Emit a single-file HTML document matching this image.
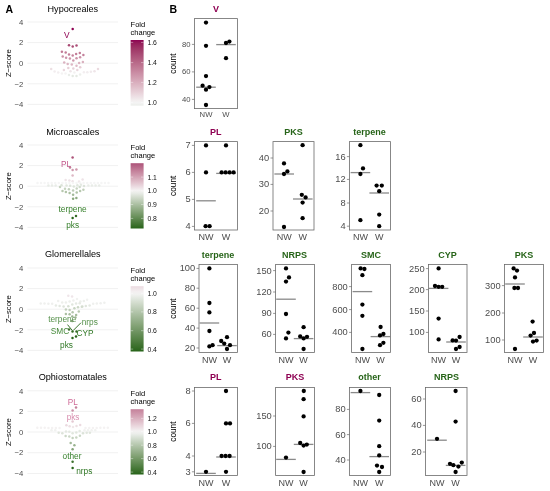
<!DOCTYPE html>
<html><head><meta charset="utf-8"><title>Figure</title>
<style>
html,body{margin:0;padding:0;background:#fff;}
svg{display:block;font-family:'Liberation Sans', sans-serif;}
</style></head>
<body>
<svg width="550" height="491" viewBox="0 0 550 491">
<rect x="0" y="0" width="550" height="491" fill="#ffffff"/>
<text x="72.80" y="12.00" font-size="9.1" fill="#000" text-anchor="middle">Hypocreales</text>
<line x1="27.40" y1="22.00" x2="118.00" y2="22.00" stroke="#ebebeb" stroke-width="0.7"/>
<text x="23.30" y="24.75" font-size="7.7" fill="#4d4d4d" text-anchor="end">4</text>
<line x1="27.40" y1="42.60" x2="118.00" y2="42.60" stroke="#ebebeb" stroke-width="0.7"/>
<text x="23.30" y="45.35" font-size="7.7" fill="#4d4d4d" text-anchor="end">2</text>
<line x1="27.40" y1="63.20" x2="118.00" y2="63.20" stroke="#ebebeb" stroke-width="0.7"/>
<text x="23.30" y="65.95" font-size="7.7" fill="#4d4d4d" text-anchor="end">0</text>
<line x1="27.40" y1="83.80" x2="118.00" y2="83.80" stroke="#ebebeb" stroke-width="0.7"/>
<text x="23.30" y="86.55" font-size="7.7" fill="#4d4d4d" text-anchor="end">−2</text>
<line x1="27.40" y1="104.40" x2="118.00" y2="104.40" stroke="#ebebeb" stroke-width="0.7"/>
<text x="23.30" y="107.15" font-size="7.7" fill="#4d4d4d" text-anchor="end">−4</text>
<text x="11.00" y="63.20" font-size="7.6" fill="#000" text-anchor="middle" transform="rotate(-90 11.00 63.20)">Z−score</text>
<text x="130.60" y="27.00" font-size="7.5" fill="#000" text-anchor="start">Fold</text>
<text x="130.60" y="35.20" font-size="7.5" fill="#000" text-anchor="start">change</text>
<defs><linearGradient id="g1" x1="0" y1="0" x2="0" y2="1"><stop offset="0.0000" stop-color="#8e0152"/><stop offset="0.0417" stop-color="#931958"/><stop offset="0.0833" stop-color="#99285f"/><stop offset="0.1250" stop-color="#9e3465"/><stop offset="0.1667" stop-color="#a33f6c"/><stop offset="0.2083" stop-color="#a84973"/><stop offset="0.2500" stop-color="#ad537a"/><stop offset="0.2917" stop-color="#b25d80"/><stop offset="0.3333" stop-color="#b76787"/><stop offset="0.3750" stop-color="#bc708e"/><stop offset="0.4167" stop-color="#c17a95"/><stop offset="0.4583" stop-color="#c5839c"/><stop offset="0.5000" stop-color="#ca8da4"/><stop offset="0.5417" stop-color="#ce96ab"/><stop offset="0.5833" stop-color="#d2a0b2"/><stop offset="0.6250" stop-color="#d7a9ba"/><stop offset="0.6667" stop-color="#dbb3c1"/><stop offset="0.7083" stop-color="#dfbcc8"/><stop offset="0.7500" stop-color="#e3c6d0"/><stop offset="0.7917" stop-color="#e7cfd7"/><stop offset="0.8333" stop-color="#ebd9df"/><stop offset="0.8750" stop-color="#eee3e7"/><stop offset="0.9167" stop-color="#f2edee"/><stop offset="0.9583" stop-color="#f4f4f4"/><stop offset="1.0000" stop-color="#eaede9"/></linearGradient></defs>
<rect x="130.60" y="40.00" width="13.00" height="65.60" fill="url(#g1)"/>
<line x1="130.60" y1="42.40" x2="133.20" y2="42.40" stroke="#ffffff" stroke-width="0.4"/>
<line x1="141.00" y1="42.40" x2="143.60" y2="42.40" stroke="#ffffff" stroke-width="0.4"/>
<text x="147.40" y="44.80" font-size="6.8" fill="#111" text-anchor="start">1.6</text>
<line x1="130.60" y1="62.60" x2="133.20" y2="62.60" stroke="#ffffff" stroke-width="0.4"/>
<line x1="141.00" y1="62.60" x2="143.60" y2="62.60" stroke="#ffffff" stroke-width="0.4"/>
<text x="147.40" y="65.00" font-size="6.8" fill="#111" text-anchor="start">1.4</text>
<line x1="130.60" y1="82.40" x2="133.20" y2="82.40" stroke="#ffffff" stroke-width="0.4"/>
<line x1="141.00" y1="82.40" x2="143.60" y2="82.40" stroke="#ffffff" stroke-width="0.4"/>
<text x="147.40" y="84.80" font-size="6.8" fill="#111" text-anchor="start">1.2</text>
<line x1="130.60" y1="102.40" x2="133.20" y2="102.40" stroke="#ffffff" stroke-width="0.4"/>
<line x1="141.00" y1="102.40" x2="143.60" y2="102.40" stroke="#ffffff" stroke-width="0.4"/>
<text x="147.40" y="104.80" font-size="6.8" fill="#111" text-anchor="start">1.0</text>
<circle cx="72.70" cy="28.90" r="1.25" fill="#8e0152"/>
<circle cx="69.00" cy="45.20" r="1.25" fill="#a94a73"/>
<circle cx="72.70" cy="46.50" r="1.25" fill="#a94a73"/>
<circle cx="76.50" cy="45.50" r="1.25" fill="#ab4e76"/>
<circle cx="61.90" cy="51.80" r="1.25" fill="#c17a96"/>
<circle cx="65.70" cy="52.60" r="1.25" fill="#c27d97"/>
<circle cx="69.00" cy="54.40" r="1.25" fill="#c37f99"/>
<circle cx="72.70" cy="55.60" r="1.25" fill="#c4819b"/>
<circle cx="76.10" cy="53.90" r="1.25" fill="#c37f99"/>
<circle cx="79.80" cy="53.10" r="1.25" fill="#c27d97"/>
<circle cx="83.40" cy="55.10" r="1.25" fill="#c4819b"/>
<circle cx="62.70" cy="56.50" r="1.25" fill="#cb90a6"/>
<circle cx="66.10" cy="57.80" r="1.25" fill="#cc92a8"/>
<circle cx="69.90" cy="58.60" r="1.25" fill="#cd94a9"/>
<circle cx="73.30" cy="60.50" r="1.25" fill="#cf99ad"/>
<circle cx="76.50" cy="58.20" r="1.25" fill="#cd94a9"/>
<circle cx="80.10" cy="57.20" r="1.25" fill="#cc92a8"/>
<circle cx="64.20" cy="62.60" r="1.25" fill="#dbb3c1"/>
<circle cx="67.70" cy="64.00" r="1.25" fill="#dcb5c3"/>
<circle cx="71.80" cy="64.50" r="1.25" fill="#ddb7c4"/>
<circle cx="76.50" cy="65.80" r="1.25" fill="#deb9c6"/>
<circle cx="79.10" cy="63.00" r="1.25" fill="#dbb3c1"/>
<circle cx="82.90" cy="62.00" r="1.25" fill="#dab1bf"/>
<circle cx="68.30" cy="68.00" r="1.25" fill="#e7cfd7"/>
<circle cx="73.30" cy="68.40" r="1.25" fill="#e7d1d9"/>
<circle cx="63.90" cy="69.90" r="1.25" fill="#ead8de"/>
<circle cx="70.50" cy="71.20" r="1.25" fill="#efe5e9"/>
<circle cx="77.30" cy="69.90" r="1.25" fill="#e9d6dc"/>
<circle cx="80.20" cy="67.30" r="1.25" fill="#e6cdd5"/>
<circle cx="51.20" cy="69.10" r="1.25" fill="#eddfe3"/>
<circle cx="54.60" cy="71.50" r="1.25" fill="#f2edef"/>
<circle cx="58.20" cy="72.40" r="1.25" fill="#f3eff1"/>
<circle cx="61.90" cy="73.50" r="1.25" fill="#f4f3f3"/>
<circle cx="65.50" cy="73.50" r="1.25" fill="#f4f3f3"/>
<circle cx="74.40" cy="72.40" r="1.25" fill="#f3f1f1"/>
<circle cx="83.90" cy="72.20" r="1.25" fill="#f3eef0"/>
<circle cx="87.30" cy="72.20" r="1.25" fill="#f2edef"/>
<circle cx="90.90" cy="71.80" r="1.25" fill="#f1ebed"/>
<circle cx="94.50" cy="71.20" r="1.25" fill="#efe5e9"/>
<circle cx="98.00" cy="69.00" r="1.25" fill="#ebdae0"/>
<circle cx="69.00" cy="75.00" r="1.25" fill="#eaede9"/>
<circle cx="72.70" cy="76.00" r="1.25" fill="#e4e9e2"/>
<circle cx="76.50" cy="76.00" r="1.25" fill="#e4e9e2"/>
<circle cx="80.10" cy="74.50" r="1.25" fill="#edefeb"/>
<text x="66.80" y="38.30" font-size="8.4" fill="#8e0152" text-anchor="middle">V</text>
<text x="72.80" y="134.80" font-size="9.1" fill="#000" text-anchor="middle">Microascales</text>
<line x1="27.40" y1="145.00" x2="118.00" y2="145.00" stroke="#ebebeb" stroke-width="0.7"/>
<text x="23.30" y="147.75" font-size="7.7" fill="#4d4d4d" text-anchor="end">4</text>
<line x1="27.40" y1="165.60" x2="118.00" y2="165.60" stroke="#ebebeb" stroke-width="0.7"/>
<text x="23.30" y="168.35" font-size="7.7" fill="#4d4d4d" text-anchor="end">2</text>
<line x1="27.40" y1="186.20" x2="118.00" y2="186.20" stroke="#ebebeb" stroke-width="0.7"/>
<text x="23.30" y="188.95" font-size="7.7" fill="#4d4d4d" text-anchor="end">0</text>
<line x1="27.40" y1="206.80" x2="118.00" y2="206.80" stroke="#ebebeb" stroke-width="0.7"/>
<text x="23.30" y="209.55" font-size="7.7" fill="#4d4d4d" text-anchor="end">−2</text>
<line x1="27.40" y1="227.40" x2="118.00" y2="227.40" stroke="#ebebeb" stroke-width="0.7"/>
<text x="23.30" y="230.15" font-size="7.7" fill="#4d4d4d" text-anchor="end">−4</text>
<text x="11.00" y="186.20" font-size="7.6" fill="#000" text-anchor="middle" transform="rotate(-90 11.00 186.20)">Z−score</text>
<text x="130.60" y="150.00" font-size="7.5" fill="#000" text-anchor="start">Fold</text>
<text x="130.60" y="158.20" font-size="7.5" fill="#000" text-anchor="start">change</text>
<defs><linearGradient id="g2" x1="0" y1="0" x2="0" y2="1"><stop offset="0.0000" stop-color="#ad5379"/><stop offset="0.0417" stop-color="#b56385"/><stop offset="0.0833" stop-color="#bd7390"/><stop offset="0.1250" stop-color="#c5839c"/><stop offset="0.1667" stop-color="#cc92a8"/><stop offset="0.2083" stop-color="#d3a2b4"/><stop offset="0.2500" stop-color="#dab2c0"/><stop offset="0.2917" stop-color="#e1c1cc"/><stop offset="0.3333" stop-color="#e7d1d9"/><stop offset="0.3750" stop-color="#eee1e6"/><stop offset="0.4167" stop-color="#f4f2f2"/><stop offset="0.4583" stop-color="#e9ece7"/><stop offset="0.5000" stop-color="#dae1d6"/><stop offset="0.5417" stop-color="#cbd6c5"/><stop offset="0.5833" stop-color="#bcccb5"/><stop offset="0.6250" stop-color="#adc1a4"/><stop offset="0.6667" stop-color="#9eb694"/><stop offset="0.7083" stop-color="#90ac84"/><stop offset="0.7500" stop-color="#81a175"/><stop offset="0.7917" stop-color="#739765"/><stop offset="0.8333" stop-color="#648d56"/><stop offset="0.8750" stop-color="#568247"/><stop offset="0.9167" stop-color="#477838"/><stop offset="0.9583" stop-color="#386e29"/><stop offset="1.0000" stop-color="#276419"/></linearGradient></defs>
<rect x="130.60" y="163.20" width="13.00" height="65.30" fill="url(#g2)"/>
<line x1="130.60" y1="177.10" x2="133.20" y2="177.10" stroke="#ffffff" stroke-width="0.4"/>
<line x1="141.00" y1="177.10" x2="143.60" y2="177.10" stroke="#ffffff" stroke-width="0.4"/>
<text x="147.40" y="179.50" font-size="6.8" fill="#111" text-anchor="start">1.1</text>
<line x1="130.60" y1="191.00" x2="133.20" y2="191.00" stroke="#ffffff" stroke-width="0.4"/>
<line x1="141.00" y1="191.00" x2="143.60" y2="191.00" stroke="#ffffff" stroke-width="0.4"/>
<text x="147.40" y="193.40" font-size="6.8" fill="#111" text-anchor="start">1.0</text>
<line x1="130.60" y1="204.50" x2="133.20" y2="204.50" stroke="#ffffff" stroke-width="0.4"/>
<line x1="141.00" y1="204.50" x2="143.60" y2="204.50" stroke="#ffffff" stroke-width="0.4"/>
<text x="147.40" y="206.90" font-size="6.8" fill="#111" text-anchor="start">0.9</text>
<line x1="130.60" y1="218.40" x2="133.20" y2="218.40" stroke="#ffffff" stroke-width="0.4"/>
<line x1="141.00" y1="218.40" x2="143.60" y2="218.40" stroke="#ffffff" stroke-width="0.4"/>
<text x="147.40" y="220.80" font-size="6.8" fill="#111" text-anchor="start">0.8</text>
<circle cx="72.60" cy="157.60" r="1.25" fill="#ad5379"/>
<circle cx="70.00" cy="167.60" r="1.25" fill="#c27d97"/>
<circle cx="72.60" cy="170.00" r="1.25" fill="#cf99ad"/>
<circle cx="76.40" cy="169.60" r="1.25" fill="#cf99ad"/>
<circle cx="72.60" cy="175.40" r="1.25" fill="#ddb7c4"/>
<circle cx="65.60" cy="180.00" r="1.25" fill="#eee3e7"/>
<circle cx="69.40" cy="180.60" r="1.25" fill="#eee3e7"/>
<circle cx="72.60" cy="181.20" r="1.25" fill="#eee3e7"/>
<circle cx="82.60" cy="179.60" r="1.25" fill="#eee3e7"/>
<circle cx="79.00" cy="181.60" r="1.25" fill="#f0e8ea"/>
<circle cx="37.50" cy="183.00" r="1.25" fill="#f5f5f5"/>
<circle cx="41.05" cy="183.00" r="1.25" fill="#f5f5f5"/>
<circle cx="44.60" cy="183.00" r="1.25" fill="#f5f5f5"/>
<circle cx="48.15" cy="183.00" r="1.25" fill="#f5f5f5"/>
<circle cx="51.70" cy="183.00" r="1.25" fill="#f5f5f5"/>
<circle cx="55.25" cy="183.00" r="1.25" fill="#f5f5f5"/>
<circle cx="58.80" cy="183.00" r="1.25" fill="#f5f5f5"/>
<circle cx="62.35" cy="183.00" r="1.25" fill="#f5f5f5"/>
<circle cx="65.90" cy="183.00" r="1.25" fill="#f5f5f5"/>
<circle cx="69.45" cy="183.00" r="1.25" fill="#f5f5f5"/>
<circle cx="73.00" cy="183.00" r="1.25" fill="#f5f5f5"/>
<circle cx="76.55" cy="183.00" r="1.25" fill="#f5f5f5"/>
<circle cx="80.10" cy="183.00" r="1.25" fill="#f5f5f5"/>
<circle cx="83.65" cy="183.00" r="1.25" fill="#f5f5f5"/>
<circle cx="87.20" cy="183.00" r="1.25" fill="#f5f5f5"/>
<circle cx="90.75" cy="183.00" r="1.25" fill="#f5f5f5"/>
<circle cx="94.30" cy="183.00" r="1.25" fill="#f5f5f5"/>
<circle cx="97.85" cy="183.00" r="1.25" fill="#f5f5f5"/>
<circle cx="101.40" cy="183.00" r="1.25" fill="#f5f5f5"/>
<circle cx="104.95" cy="183.00" r="1.25" fill="#f5f5f5"/>
<circle cx="108.50" cy="183.00" r="1.25" fill="#f5f5f5"/>
<circle cx="48.40" cy="185.40" r="1.25" fill="#e8ece7"/>
<circle cx="52.03" cy="185.40" r="1.25" fill="#e8ece7"/>
<circle cx="55.66" cy="185.40" r="1.25" fill="#e8ece7"/>
<circle cx="88.33" cy="185.40" r="1.25" fill="#e8ece7"/>
<circle cx="91.96" cy="185.40" r="1.25" fill="#e8ece7"/>
<circle cx="95.59" cy="185.40" r="1.25" fill="#e8ece7"/>
<circle cx="99.22" cy="185.40" r="1.25" fill="#e8ece7"/>
<circle cx="60.00" cy="187.10" r="1.25" fill="#c7d4c1"/>
<circle cx="62.50" cy="190.90" r="1.25" fill="#b7c8af"/>
<circle cx="65.90" cy="192.10" r="1.25" fill="#b1c4a8"/>
<circle cx="69.60" cy="193.10" r="1.25" fill="#abbfa2"/>
<circle cx="73.10" cy="194.70" r="1.25" fill="#a2b999"/>
<circle cx="76.70" cy="192.60" r="1.25" fill="#adc1a4"/>
<circle cx="80.10" cy="190.90" r="1.25" fill="#b7c8af"/>
<circle cx="83.40" cy="189.70" r="1.25" fill="#bfceb8"/>
<circle cx="61.50" cy="185.20" r="1.25" fill="#dce3d9"/>
<circle cx="65.00" cy="188.70" r="1.25" fill="#c7d4c1"/>
<circle cx="68.90" cy="189.20" r="1.25" fill="#c3d1bd"/>
<circle cx="73.10" cy="190.40" r="1.25" fill="#bdccb6"/>
<circle cx="76.70" cy="188.40" r="1.25" fill="#c7d4c1"/>
<circle cx="79.70" cy="187.10" r="1.25" fill="#cfdacb"/>
<circle cx="84.00" cy="186.00" r="1.25" fill="#dce3d9"/>
<circle cx="66.50" cy="185.40" r="1.25" fill="#e0e6dd"/>
<circle cx="70.20" cy="185.80" r="1.25" fill="#dce3d9"/>
<circle cx="73.80" cy="186.60" r="1.25" fill="#dce3d9"/>
<circle cx="77.40" cy="185.20" r="1.25" fill="#e0e6dd"/>
<circle cx="81.00" cy="184.80" r="1.25" fill="#e4e9e2"/>
<circle cx="73.10" cy="198.70" r="1.25" fill="#8aa87e"/>
<circle cx="76.40" cy="198.10" r="1.25" fill="#8eab83"/>
<circle cx="72.60" cy="218.00" r="1.25" fill="#276419"/>
<circle cx="76.00" cy="216.00" r="1.25" fill="#336b24"/>
<text x="71.10" y="167.00" font-size="8.2" fill="#c2568a" text-anchor="end">PL</text>
<text x="72.60" y="212.40" font-size="8.3" fill="#37802c" text-anchor="middle">terpene</text>
<text x="72.60" y="227.60" font-size="8.3" fill="#37802c" text-anchor="middle">pks</text>
<text x="72.80" y="257.40" font-size="9.1" fill="#000" text-anchor="middle">Glomerellales</text>
<line x1="27.40" y1="268.00" x2="118.00" y2="268.00" stroke="#ebebeb" stroke-width="0.7"/>
<text x="23.30" y="270.75" font-size="7.7" fill="#4d4d4d" text-anchor="end">4</text>
<line x1="27.40" y1="288.60" x2="118.00" y2="288.60" stroke="#ebebeb" stroke-width="0.7"/>
<text x="23.30" y="291.35" font-size="7.7" fill="#4d4d4d" text-anchor="end">2</text>
<line x1="27.40" y1="309.20" x2="118.00" y2="309.20" stroke="#ebebeb" stroke-width="0.7"/>
<text x="23.30" y="311.95" font-size="7.7" fill="#4d4d4d" text-anchor="end">0</text>
<line x1="27.40" y1="329.80" x2="118.00" y2="329.80" stroke="#ebebeb" stroke-width="0.7"/>
<text x="23.30" y="332.55" font-size="7.7" fill="#4d4d4d" text-anchor="end">−2</text>
<line x1="27.40" y1="350.40" x2="118.00" y2="350.40" stroke="#ebebeb" stroke-width="0.7"/>
<text x="23.30" y="353.15" font-size="7.7" fill="#4d4d4d" text-anchor="end">−4</text>
<text x="11.00" y="309.20" font-size="7.6" fill="#000" text-anchor="middle" transform="rotate(-90 11.00 309.20)">Z−score</text>
<text x="130.60" y="273.00" font-size="7.5" fill="#000" text-anchor="start">Fold</text>
<text x="130.60" y="281.20" font-size="7.5" fill="#000" text-anchor="start">change</text>
<defs><linearGradient id="g3" x1="0" y1="0" x2="0" y2="1"><stop offset="0.0000" stop-color="#ebdae0"/><stop offset="0.0417" stop-color="#efe5e8"/><stop offset="0.0833" stop-color="#f3eff0"/><stop offset="0.1250" stop-color="#f1f2f0"/><stop offset="0.1667" stop-color="#e7ebe5"/><stop offset="0.2083" stop-color="#dde4da"/><stop offset="0.2500" stop-color="#d4ddcf"/><stop offset="0.2917" stop-color="#cad6c4"/><stop offset="0.3333" stop-color="#c0cfba"/><stop offset="0.3750" stop-color="#b7c8af"/><stop offset="0.4167" stop-color="#adc1a5"/><stop offset="0.4583" stop-color="#a4ba9a"/><stop offset="0.5000" stop-color="#9ab390"/><stop offset="0.5417" stop-color="#91ad86"/><stop offset="0.5833" stop-color="#88a67b"/><stop offset="0.6250" stop-color="#7e9f71"/><stop offset="0.6667" stop-color="#759868"/><stop offset="0.7083" stop-color="#6c925e"/><stop offset="0.7500" stop-color="#628b54"/><stop offset="0.7917" stop-color="#59854a"/><stop offset="0.8333" stop-color="#507e41"/><stop offset="0.8750" stop-color="#467737"/><stop offset="0.9167" stop-color="#3c712d"/><stop offset="0.9583" stop-color="#326a23"/><stop offset="1.0000" stop-color="#276419"/></linearGradient></defs>
<rect x="130.60" y="286.20" width="13.00" height="65.30" fill="url(#g3)"/>
<line x1="130.60" y1="293.30" x2="133.20" y2="293.30" stroke="#ffffff" stroke-width="0.4"/>
<line x1="141.00" y1="293.30" x2="143.60" y2="293.30" stroke="#ffffff" stroke-width="0.4"/>
<text x="147.40" y="295.70" font-size="6.8" fill="#111" text-anchor="start">1.0</text>
<line x1="130.60" y1="311.90" x2="133.20" y2="311.90" stroke="#ffffff" stroke-width="0.4"/>
<line x1="141.00" y1="311.90" x2="143.60" y2="311.90" stroke="#ffffff" stroke-width="0.4"/>
<text x="147.40" y="314.30" font-size="6.8" fill="#111" text-anchor="start">0.8</text>
<line x1="130.60" y1="330.70" x2="133.20" y2="330.70" stroke="#ffffff" stroke-width="0.4"/>
<line x1="141.00" y1="330.70" x2="143.60" y2="330.70" stroke="#ffffff" stroke-width="0.4"/>
<text x="147.40" y="333.10" font-size="6.8" fill="#111" text-anchor="start">0.6</text>
<line x1="130.60" y1="349.10" x2="133.20" y2="349.10" stroke="#ffffff" stroke-width="0.4"/>
<line x1="141.00" y1="349.10" x2="143.60" y2="349.10" stroke="#ffffff" stroke-width="0.4"/>
<text x="147.40" y="351.50" font-size="6.8" fill="#111" text-anchor="start">0.4</text>
<text x="62.20" y="322.30" font-size="8.3" fill="#55904a" text-anchor="middle">terpene</text>
<text x="89.80" y="324.60" font-size="8.3" fill="#55904a" text-anchor="middle">nrps</text>
<text x="60.00" y="333.60" font-size="8.3" fill="#468a3a" text-anchor="middle">SMC</text>
<text x="85.00" y="335.80" font-size="8.3" fill="#2f7724" text-anchor="middle">CYP</text>
<text x="66.50" y="347.50" font-size="8.3" fill="#2f7724" text-anchor="middle">pks</text>
<line x1="67.50" y1="324.60" x2="72.20" y2="330.40" stroke="#2d6a20" stroke-width="0.95"/>
<line x1="81.00" y1="322.70" x2="73.30" y2="330.40" stroke="#2d6a20" stroke-width="0.95"/>
<circle cx="68.30" cy="295.70" r="1.25" fill="#efe5e9"/>
<circle cx="72.10" cy="296.40" r="1.25" fill="#efe5e9"/>
<circle cx="77.00" cy="299.00" r="1.25" fill="#f1f2f0"/>
<circle cx="87.10" cy="299.80" r="1.25" fill="#f1f2f0"/>
<circle cx="58.20" cy="301.00" r="1.25" fill="#eff0ee"/>
<circle cx="62.20" cy="302.40" r="1.25" fill="#edefeb"/>
<circle cx="65.90" cy="302.40" r="1.25" fill="#edefeb"/>
<circle cx="69.60" cy="301.40" r="1.25" fill="#edefeb"/>
<circle cx="73.40" cy="300.50" r="1.25" fill="#eff0ee"/>
<circle cx="80.40" cy="301.40" r="1.25" fill="#edefeb"/>
<circle cx="83.80" cy="301.00" r="1.25" fill="#edefeb"/>
<circle cx="40.70" cy="303.50" r="1.25" fill="#eff0ee"/>
<circle cx="44.50" cy="303.60" r="1.25" fill="#eff0ee"/>
<circle cx="48.40" cy="303.70" r="1.25" fill="#eff0ee"/>
<circle cx="52.20" cy="303.80" r="1.25" fill="#eff0ee"/>
<circle cx="104.40" cy="302.80" r="1.25" fill="#eff0ee"/>
<circle cx="100.60" cy="303.15" r="1.25" fill="#eff0ee"/>
<circle cx="96.80" cy="303.50" r="1.25" fill="#eff0ee"/>
<circle cx="93.20" cy="303.85" r="1.25" fill="#eff0ee"/>
<circle cx="55.90" cy="305.50" r="1.25" fill="#e6eae4"/>
<circle cx="59.60" cy="305.90" r="1.25" fill="#e2e7e0"/>
<circle cx="63.60" cy="306.40" r="1.25" fill="#dce3d9"/>
<circle cx="68.30" cy="306.20" r="1.25" fill="#d8e0d4"/>
<circle cx="72.30" cy="304.50" r="1.25" fill="#e0e6dd"/>
<circle cx="76.10" cy="303.50" r="1.25" fill="#e4e9e2"/>
<circle cx="79.70" cy="303.20" r="1.25" fill="#e6eae4"/>
<circle cx="82.40" cy="306.60" r="1.25" fill="#dce3d9"/>
<circle cx="85.80" cy="305.90" r="1.25" fill="#e0e6dd"/>
<circle cx="89.60" cy="305.50" r="1.25" fill="#e4e9e2"/>
<circle cx="65.90" cy="309.50" r="1.25" fill="#c3d1bd"/>
<circle cx="69.60" cy="309.90" r="1.25" fill="#bfceb8"/>
<circle cx="74.40" cy="308.20" r="1.25" fill="#c7d4c1"/>
<circle cx="78.00" cy="307.20" r="1.25" fill="#cbd7c6"/>
<circle cx="81.80" cy="306.80" r="1.25" fill="#d4ddcf"/>
<circle cx="65.90" cy="314.00" r="1.25" fill="#abbfa2"/>
<circle cx="69.60" cy="314.20" r="1.25" fill="#a6bc9d"/>
<circle cx="72.60" cy="312.20" r="1.25" fill="#b3c5ab"/>
<circle cx="76.10" cy="314.90" r="1.25" fill="#a6bc9d"/>
<circle cx="78.80" cy="311.50" r="1.25" fill="#b7c8af"/>
<circle cx="72.30" cy="316.40" r="1.25" fill="#98b28e"/>
<circle cx="75.40" cy="317.60" r="1.25" fill="#98b28e"/>
<circle cx="69.00" cy="329.60" r="1.25" fill="#3e722f"/>
<circle cx="72.50" cy="331.50" r="1.25" fill="#336b24"/>
<circle cx="76.50" cy="331.50" r="1.25" fill="#336b24"/>
<circle cx="72.50" cy="338.00" r="1.25" fill="#276419"/>
<circle cx="76.00" cy="336.50" r="1.25" fill="#276419"/>
<circle cx="72.20" cy="321.10" r="1.25" fill="#769969"/>
<text x="72.80" y="380.40" font-size="9.1" fill="#000" text-anchor="middle">Ophiostomatales</text>
<line x1="27.40" y1="390.80" x2="118.00" y2="390.80" stroke="#ebebeb" stroke-width="0.7"/>
<text x="23.30" y="393.55" font-size="7.7" fill="#4d4d4d" text-anchor="end">4</text>
<line x1="27.40" y1="411.40" x2="118.00" y2="411.40" stroke="#ebebeb" stroke-width="0.7"/>
<text x="23.30" y="414.15" font-size="7.7" fill="#4d4d4d" text-anchor="end">2</text>
<line x1="27.40" y1="432.00" x2="118.00" y2="432.00" stroke="#ebebeb" stroke-width="0.7"/>
<text x="23.30" y="434.75" font-size="7.7" fill="#4d4d4d" text-anchor="end">0</text>
<line x1="27.40" y1="452.70" x2="118.00" y2="452.70" stroke="#ebebeb" stroke-width="0.7"/>
<text x="23.30" y="455.45" font-size="7.7" fill="#4d4d4d" text-anchor="end">−2</text>
<line x1="27.40" y1="473.50" x2="118.00" y2="473.50" stroke="#ebebeb" stroke-width="0.7"/>
<text x="23.30" y="476.25" font-size="7.7" fill="#4d4d4d" text-anchor="end">−4</text>
<text x="11.00" y="432.15" font-size="7.6" fill="#000" text-anchor="middle" transform="rotate(-90 11.00 432.15)">Z−score</text>
<text x="130.60" y="396.00" font-size="7.5" fill="#000" text-anchor="start">Fold</text>
<text x="130.60" y="404.20" font-size="7.5" fill="#000" text-anchor="start">change</text>
<defs><linearGradient id="g4" x1="0" y1="0" x2="0" y2="1"><stop offset="0.0000" stop-color="#c4819b"/><stop offset="0.0417" stop-color="#cb8fa5"/><stop offset="0.0833" stop-color="#d19cb0"/><stop offset="0.1250" stop-color="#d7aaba"/><stop offset="0.1667" stop-color="#ddb8c5"/><stop offset="0.2083" stop-color="#e3c6d0"/><stop offset="0.2500" stop-color="#e9d4db"/><stop offset="0.2917" stop-color="#eee2e6"/><stop offset="0.3333" stop-color="#f3f1f1"/><stop offset="0.3750" stop-color="#eceeeb"/><stop offset="0.4167" stop-color="#dee5dc"/><stop offset="0.4583" stop-color="#d1dbcd"/><stop offset="0.5000" stop-color="#c4d2be"/><stop offset="0.5417" stop-color="#b7c8af"/><stop offset="0.5833" stop-color="#aabfa1"/><stop offset="0.6250" stop-color="#9db593"/><stop offset="0.6667" stop-color="#90ac85"/><stop offset="0.7083" stop-color="#84a377"/><stop offset="0.7500" stop-color="#779a69"/><stop offset="0.7917" stop-color="#6a915c"/><stop offset="0.8333" stop-color="#5d884f"/><stop offset="0.8750" stop-color="#507f42"/><stop offset="0.9167" stop-color="#437634"/><stop offset="0.9583" stop-color="#366d27"/><stop offset="1.0000" stop-color="#276419"/></linearGradient></defs>
<rect x="130.60" y="409.20" width="13.00" height="65.30" fill="url(#g4)"/>
<line x1="130.60" y1="418.40" x2="133.20" y2="418.40" stroke="#ffffff" stroke-width="0.4"/>
<line x1="141.00" y1="418.40" x2="143.60" y2="418.40" stroke="#ffffff" stroke-width="0.4"/>
<text x="147.40" y="420.80" font-size="6.8" fill="#111" text-anchor="start">1.2</text>
<line x1="130.60" y1="431.70" x2="133.20" y2="431.70" stroke="#ffffff" stroke-width="0.4"/>
<line x1="141.00" y1="431.70" x2="143.60" y2="431.70" stroke="#ffffff" stroke-width="0.4"/>
<text x="147.40" y="434.10" font-size="6.8" fill="#111" text-anchor="start">1.0</text>
<line x1="130.60" y1="445.20" x2="133.20" y2="445.20" stroke="#ffffff" stroke-width="0.4"/>
<line x1="141.00" y1="445.20" x2="143.60" y2="445.20" stroke="#ffffff" stroke-width="0.4"/>
<text x="147.40" y="447.60" font-size="6.8" fill="#111" text-anchor="start">0.8</text>
<line x1="130.60" y1="458.60" x2="133.20" y2="458.60" stroke="#ffffff" stroke-width="0.4"/>
<line x1="141.00" y1="458.60" x2="143.60" y2="458.60" stroke="#ffffff" stroke-width="0.4"/>
<text x="147.40" y="461.00" font-size="6.8" fill="#111" text-anchor="start">0.6</text>
<line x1="130.60" y1="472.10" x2="133.20" y2="472.10" stroke="#ffffff" stroke-width="0.4"/>
<line x1="141.00" y1="472.10" x2="143.60" y2="472.10" stroke="#ffffff" stroke-width="0.4"/>
<text x="147.40" y="474.50" font-size="6.8" fill="#111" text-anchor="start">0.4</text>
<circle cx="76.00" cy="407.60" r="1.25" fill="#c4819b"/>
<circle cx="72.60" cy="410.50" r="1.25" fill="#cc92a8"/>
<circle cx="72.60" cy="421.60" r="1.25" fill="#e4c9d2"/>
<circle cx="66.40" cy="425.30" r="1.25" fill="#ebdae0"/>
<circle cx="69.60" cy="426.30" r="1.25" fill="#eddfe3"/>
<circle cx="76.50" cy="425.90" r="1.25" fill="#eddfe3"/>
<circle cx="80.20" cy="424.90" r="1.25" fill="#ebdae0"/>
<circle cx="73.00" cy="427.00" r="1.25" fill="#f0e8ea"/>
<circle cx="37.30" cy="427.70" r="1.25" fill="#f4f2f2"/>
<circle cx="41.01" cy="427.70" r="1.25" fill="#f4f2f2"/>
<circle cx="44.72" cy="427.70" r="1.25" fill="#f4f2f2"/>
<circle cx="48.43" cy="428.00" r="1.25" fill="#f4f2f2"/>
<circle cx="52.14" cy="428.00" r="1.25" fill="#f4f2f2"/>
<circle cx="55.85" cy="428.00" r="1.25" fill="#f4f2f2"/>
<circle cx="59.56" cy="428.00" r="1.25" fill="#f4f2f2"/>
<circle cx="85.53" cy="428.00" r="1.25" fill="#f4f2f2"/>
<circle cx="89.24" cy="428.00" r="1.25" fill="#f4f2f2"/>
<circle cx="92.95" cy="428.00" r="1.25" fill="#f4f2f2"/>
<circle cx="96.66" cy="428.00" r="1.25" fill="#f4f2f2"/>
<circle cx="100.37" cy="427.70" r="1.25" fill="#f4f2f2"/>
<circle cx="104.08" cy="427.70" r="1.25" fill="#f4f2f2"/>
<circle cx="107.79" cy="427.70" r="1.25" fill="#f4f2f2"/>
<circle cx="51.50" cy="430.20" r="1.25" fill="#f1f2f0"/>
<circle cx="55.20" cy="430.20" r="1.25" fill="#f1f2f0"/>
<circle cx="84.50" cy="430.20" r="1.25" fill="#f1f2f0"/>
<circle cx="88.00" cy="430.20" r="1.25" fill="#f1f2f0"/>
<circle cx="91.60" cy="430.20" r="1.25" fill="#f1f2f0"/>
<circle cx="95.20" cy="430.20" r="1.25" fill="#f1f2f0"/>
<circle cx="58.70" cy="432.70" r="1.25" fill="#e0e6dd"/>
<circle cx="62.30" cy="433.20" r="1.25" fill="#dce3d9"/>
<circle cx="65.60" cy="436.10" r="1.25" fill="#cbd7c6"/>
<circle cx="69.30" cy="436.50" r="1.25" fill="#cbd7c6"/>
<circle cx="72.60" cy="438.00" r="1.25" fill="#c3d1bd"/>
<circle cx="76.30" cy="437.50" r="1.25" fill="#c7d4c1"/>
<circle cx="79.90" cy="435.80" r="1.25" fill="#cbd7c6"/>
<circle cx="83.00" cy="433.20" r="1.25" fill="#dce3d9"/>
<circle cx="86.70" cy="432.70" r="1.25" fill="#e0e6dd"/>
<circle cx="89.90" cy="432.70" r="1.25" fill="#e0e6dd"/>
<circle cx="66.00" cy="431.50" r="1.25" fill="#e4e9e2"/>
<circle cx="69.30" cy="431.70" r="1.25" fill="#e4e9e2"/>
<circle cx="72.60" cy="433.20" r="1.25" fill="#e0e6dd"/>
<circle cx="76.30" cy="432.40" r="1.25" fill="#e0e6dd"/>
<circle cx="79.60" cy="431.00" r="1.25" fill="#e4e9e2"/>
<circle cx="70.70" cy="443.10" r="1.25" fill="#a2b999"/>
<circle cx="74.40" cy="445.30" r="1.25" fill="#98b28e"/>
<circle cx="72.60" cy="449.20" r="1.25" fill="#84a378"/>
<circle cx="72.60" cy="461.80" r="1.25" fill="#3e722f"/>
<circle cx="72.60" cy="468.10" r="1.25" fill="#276419"/>
<text x="72.70" y="404.60" font-size="8.2" fill="#cf6a97" text-anchor="middle">PL</text>
<text x="73.10" y="420.30" font-size="8.2" fill="#d78cad" text-anchor="middle">pks</text>
<text x="72.00" y="458.70" font-size="8.3" fill="#37802c" text-anchor="middle">other</text>
<text x="84.30" y="474.40" font-size="8.3" fill="#2f7724" text-anchor="middle">nrps</text>
<text x="5.60" y="13.00" font-size="10.5" fill="#000" text-anchor="start" font-weight="bold">A</text>
<text x="169.60" y="13.00" font-size="10.5" fill="#000" text-anchor="start" font-weight="bold">B</text>
<text x="216.00" y="11.60" font-size="9" fill="#8e0152" text-anchor="middle" font-weight="bold">V</text>
<line x1="196.20" y1="87.20" x2="215.80" y2="87.20" stroke="#8a8a8a" stroke-width="1.3"/>
<line x1="216.20" y1="44.60" x2="235.80" y2="44.60" stroke="#8a8a8a" stroke-width="1.3"/>
<circle cx="206.00" cy="22.60" r="2.15" fill="#000"/>
<circle cx="206.00" cy="45.80" r="2.15" fill="#000"/>
<circle cx="206.00" cy="76.10" r="2.15" fill="#000"/>
<circle cx="202.60" cy="85.70" r="2.15" fill="#000"/>
<circle cx="209.40" cy="87.10" r="2.15" fill="#000"/>
<circle cx="206.00" cy="89.70" r="2.15" fill="#000"/>
<circle cx="206.00" cy="105.00" r="2.15" fill="#000"/>
<circle cx="226.00" cy="43.00" r="2.15" fill="#000"/>
<circle cx="229.40" cy="41.60" r="2.15" fill="#000"/>
<circle cx="226.00" cy="58.20" r="2.15" fill="#000"/>
<rect x="194.40" y="18.60" width="43.00" height="90.00" fill="none" stroke="#6a6a6a" stroke-width="0.8"/>
<line x1="191.90" y1="44.40" x2="194.40" y2="44.40" stroke="#6a6a6a" stroke-width="0.7"/>
<text x="190.60" y="46.90" font-size="7.7" fill="#4d4d4d" text-anchor="end">80</text>
<line x1="191.90" y1="71.90" x2="194.40" y2="71.90" stroke="#6a6a6a" stroke-width="0.7"/>
<text x="190.60" y="74.40" font-size="7.7" fill="#4d4d4d" text-anchor="end">60</text>
<line x1="191.90" y1="99.40" x2="194.40" y2="99.40" stroke="#6a6a6a" stroke-width="0.7"/>
<text x="190.60" y="101.90" font-size="7.7" fill="#4d4d4d" text-anchor="end">40</text>
<line x1="206.00" y1="108.60" x2="206.00" y2="108.60" stroke="#6a6a6a" stroke-width="0.7"/>
<text x="206.00" y="117.30" font-size="7.7" fill="#4d4d4d" text-anchor="middle">NW</text>
<text x="226.00" y="117.30" font-size="7.7" fill="#4d4d4d" text-anchor="middle">W</text>
<text x="175.80" y="63.60" font-size="8.3" fill="#000" text-anchor="middle" transform="rotate(-90 175.80 63.60)">count</text>
<text x="215.80" y="134.60" font-size="9" fill="#8e0152" text-anchor="middle" font-weight="bold">PL</text>
<line x1="196.20" y1="200.80" x2="215.80" y2="200.80" stroke="#8a8a8a" stroke-width="1.3"/>
<line x1="216.20" y1="173.40" x2="235.80" y2="173.40" stroke="#8a8a8a" stroke-width="1.3"/>
<circle cx="206.00" cy="145.40" r="2.15" fill="#000"/>
<circle cx="206.00" cy="172.40" r="2.15" fill="#000"/>
<circle cx="205.60" cy="226.20" r="2.15" fill="#000"/>
<circle cx="209.60" cy="226.20" r="2.15" fill="#000"/>
<circle cx="226.00" cy="145.40" r="2.15" fill="#000"/>
<circle cx="221.60" cy="172.40" r="2.15" fill="#000"/>
<circle cx="225.60" cy="172.40" r="2.15" fill="#000"/>
<circle cx="229.60" cy="172.40" r="2.15" fill="#000"/>
<circle cx="233.60" cy="172.40" r="2.15" fill="#000"/>
<rect x="194.40" y="141.60" width="43.00" height="88.40" fill="none" stroke="#6a6a6a" stroke-width="0.8"/>
<line x1="191.90" y1="145.40" x2="194.40" y2="145.40" stroke="#6a6a6a" stroke-width="0.7"/>
<text x="190.60" y="148.42" font-size="9.3" fill="#4d4d4d" text-anchor="end">7</text>
<line x1="191.90" y1="172.40" x2="194.40" y2="172.40" stroke="#6a6a6a" stroke-width="0.7"/>
<text x="190.60" y="175.42" font-size="9.3" fill="#4d4d4d" text-anchor="end">6</text>
<line x1="191.90" y1="199.40" x2="194.40" y2="199.40" stroke="#6a6a6a" stroke-width="0.7"/>
<text x="190.60" y="202.42" font-size="9.3" fill="#4d4d4d" text-anchor="end">5</text>
<line x1="191.90" y1="226.40" x2="194.40" y2="226.40" stroke="#6a6a6a" stroke-width="0.7"/>
<text x="190.60" y="229.42" font-size="9.3" fill="#4d4d4d" text-anchor="end">4</text>
<line x1="206.00" y1="230.00" x2="206.00" y2="230.00" stroke="#6a6a6a" stroke-width="0.7"/>
<text x="206.00" y="239.60" font-size="9" fill="#4d4d4d" text-anchor="middle">NW</text>
<text x="226.00" y="239.60" font-size="9" fill="#4d4d4d" text-anchor="middle">W</text>
<text x="175.80" y="185.80" font-size="8.3" fill="#000" text-anchor="middle" transform="rotate(-90 175.80 185.80)">count</text>
<text x="293.60" y="134.60" font-size="9" fill="#276419" text-anchor="middle" font-weight="bold">PKS</text>
<line x1="274.40" y1="174.00" x2="294.00" y2="174.00" stroke="#8a8a8a" stroke-width="1.3"/>
<line x1="293.00" y1="199.00" x2="312.60" y2="199.00" stroke="#8a8a8a" stroke-width="1.3"/>
<circle cx="284.00" cy="163.40" r="2.15" fill="#000"/>
<circle cx="287.40" cy="171.40" r="2.15" fill="#000"/>
<circle cx="284.00" cy="174.00" r="2.15" fill="#000"/>
<circle cx="284.00" cy="227.00" r="2.15" fill="#000"/>
<circle cx="302.60" cy="145.20" r="2.15" fill="#000"/>
<circle cx="301.80" cy="194.80" r="2.15" fill="#000"/>
<circle cx="305.60" cy="197.40" r="2.15" fill="#000"/>
<circle cx="302.60" cy="202.60" r="2.15" fill="#000"/>
<circle cx="302.60" cy="218.20" r="2.15" fill="#000"/>
<rect x="273.00" y="141.60" width="41.00" height="88.40" fill="none" stroke="#6a6a6a" stroke-width="0.8"/>
<line x1="270.50" y1="158.00" x2="273.00" y2="158.00" stroke="#6a6a6a" stroke-width="0.7"/>
<text x="269.20" y="161.02" font-size="9.3" fill="#4d4d4d" text-anchor="end">40</text>
<line x1="270.50" y1="184.40" x2="273.00" y2="184.40" stroke="#6a6a6a" stroke-width="0.7"/>
<text x="269.20" y="187.42" font-size="9.3" fill="#4d4d4d" text-anchor="end">30</text>
<line x1="270.50" y1="211.00" x2="273.00" y2="211.00" stroke="#6a6a6a" stroke-width="0.7"/>
<text x="269.20" y="214.02" font-size="9.3" fill="#4d4d4d" text-anchor="end">20</text>
<line x1="284.20" y1="230.00" x2="284.20" y2="230.00" stroke="#6a6a6a" stroke-width="0.7"/>
<text x="284.20" y="239.60" font-size="9" fill="#4d4d4d" text-anchor="middle">NW</text>
<text x="302.80" y="239.60" font-size="9" fill="#4d4d4d" text-anchor="middle">W</text>
<text x="369.60" y="134.60" font-size="9" fill="#276419" text-anchor="middle" font-weight="bold">terpene</text>
<line x1="350.60" y1="172.60" x2="370.20" y2="172.60" stroke="#8a8a8a" stroke-width="1.3"/>
<line x1="369.40" y1="193.00" x2="389.00" y2="193.00" stroke="#8a8a8a" stroke-width="1.3"/>
<circle cx="360.40" cy="145.20" r="2.15" fill="#000"/>
<circle cx="363.00" cy="168.40" r="2.15" fill="#000"/>
<circle cx="360.40" cy="174.00" r="2.15" fill="#000"/>
<circle cx="360.40" cy="220.20" r="2.15" fill="#000"/>
<circle cx="376.60" cy="185.60" r="2.15" fill="#000"/>
<circle cx="381.80" cy="185.60" r="2.15" fill="#000"/>
<circle cx="379.20" cy="191.20" r="2.15" fill="#000"/>
<circle cx="379.20" cy="214.60" r="2.15" fill="#000"/>
<circle cx="379.20" cy="226.20" r="2.15" fill="#000"/>
<rect x="349.40" y="141.60" width="41.00" height="88.40" fill="none" stroke="#6a6a6a" stroke-width="0.8"/>
<line x1="346.90" y1="156.60" x2="349.40" y2="156.60" stroke="#6a6a6a" stroke-width="0.7"/>
<text x="345.60" y="159.62" font-size="9.3" fill="#4d4d4d" text-anchor="end">16</text>
<line x1="346.90" y1="179.40" x2="349.40" y2="179.40" stroke="#6a6a6a" stroke-width="0.7"/>
<text x="345.60" y="182.42" font-size="9.3" fill="#4d4d4d" text-anchor="end">12</text>
<line x1="346.90" y1="203.00" x2="349.40" y2="203.00" stroke="#6a6a6a" stroke-width="0.7"/>
<text x="345.60" y="206.02" font-size="9.3" fill="#4d4d4d" text-anchor="end">8</text>
<line x1="346.90" y1="226.20" x2="349.40" y2="226.20" stroke="#6a6a6a" stroke-width="0.7"/>
<text x="345.60" y="229.22" font-size="9.3" fill="#4d4d4d" text-anchor="end">4</text>
<line x1="360.40" y1="230.00" x2="360.40" y2="230.00" stroke="#6a6a6a" stroke-width="0.7"/>
<text x="360.40" y="239.60" font-size="9" fill="#4d4d4d" text-anchor="middle">NW</text>
<text x="379.20" y="239.60" font-size="9" fill="#4d4d4d" text-anchor="middle">W</text>
<text x="218.00" y="257.60" font-size="9" fill="#276419" text-anchor="middle" font-weight="bold">terpene</text>
<line x1="199.60" y1="323.00" x2="219.20" y2="323.00" stroke="#8a8a8a" stroke-width="1.3"/>
<line x1="217.20" y1="345.60" x2="236.80" y2="345.60" stroke="#8a8a8a" stroke-width="1.3"/>
<circle cx="209.40" cy="268.40" r="2.15" fill="#000"/>
<circle cx="209.40" cy="303.00" r="2.15" fill="#000"/>
<circle cx="209.40" cy="312.40" r="2.15" fill="#000"/>
<circle cx="209.40" cy="331.00" r="2.15" fill="#000"/>
<circle cx="209.40" cy="346.40" r="2.15" fill="#000"/>
<circle cx="212.60" cy="345.20" r="2.15" fill="#000"/>
<circle cx="221.20" cy="341.00" r="2.15" fill="#000"/>
<circle cx="227.00" cy="337.20" r="2.15" fill="#000"/>
<circle cx="224.20" cy="343.60" r="2.15" fill="#000"/>
<circle cx="230.00" cy="345.20" r="2.15" fill="#000"/>
<circle cx="227.00" cy="349.00" r="2.15" fill="#000"/>
<rect x="199.00" y="264.40" width="38.40" height="88.20" fill="none" stroke="#6a6a6a" stroke-width="0.8"/>
<line x1="196.50" y1="268.40" x2="199.00" y2="268.40" stroke="#6a6a6a" stroke-width="0.7"/>
<text x="195.20" y="271.42" font-size="9.3" fill="#4d4d4d" text-anchor="end">100</text>
<line x1="196.50" y1="288.20" x2="199.00" y2="288.20" stroke="#6a6a6a" stroke-width="0.7"/>
<text x="195.20" y="291.22" font-size="9.3" fill="#4d4d4d" text-anchor="end">80</text>
<line x1="196.50" y1="308.20" x2="199.00" y2="308.20" stroke="#6a6a6a" stroke-width="0.7"/>
<text x="195.20" y="311.22" font-size="9.3" fill="#4d4d4d" text-anchor="end">60</text>
<line x1="196.50" y1="328.10" x2="199.00" y2="328.10" stroke="#6a6a6a" stroke-width="0.7"/>
<text x="195.20" y="331.12" font-size="9.3" fill="#4d4d4d" text-anchor="end">40</text>
<line x1="196.50" y1="348.00" x2="199.00" y2="348.00" stroke="#6a6a6a" stroke-width="0.7"/>
<text x="195.20" y="351.02" font-size="9.3" fill="#4d4d4d" text-anchor="end">20</text>
<line x1="209.40" y1="352.60" x2="209.40" y2="352.60" stroke="#6a6a6a" stroke-width="0.7"/>
<text x="209.40" y="362.60" font-size="9" fill="#4d4d4d" text-anchor="middle">NW</text>
<text x="227.00" y="362.60" font-size="9" fill="#4d4d4d" text-anchor="middle">W</text>
<text x="175.80" y="308.50" font-size="8.3" fill="#000" text-anchor="middle" transform="rotate(-90 175.80 308.50)">count</text>
<text x="294.40" y="257.60" font-size="9" fill="#276419" text-anchor="middle" font-weight="bold">NRPS</text>
<line x1="276.20" y1="299.20" x2="295.80" y2="299.20" stroke="#8a8a8a" stroke-width="1.3"/>
<line x1="293.80" y1="338.60" x2="313.40" y2="338.60" stroke="#8a8a8a" stroke-width="1.3"/>
<circle cx="286.00" cy="268.40" r="2.15" fill="#000"/>
<circle cx="289.00" cy="277.40" r="2.15" fill="#000"/>
<circle cx="286.00" cy="281.60" r="2.15" fill="#000"/>
<circle cx="286.00" cy="314.00" r="2.15" fill="#000"/>
<circle cx="288.40" cy="332.60" r="2.15" fill="#000"/>
<circle cx="286.00" cy="338.40" r="2.15" fill="#000"/>
<circle cx="303.60" cy="327.20" r="2.15" fill="#000"/>
<circle cx="300.20" cy="336.40" r="2.15" fill="#000"/>
<circle cx="307.00" cy="336.80" r="2.15" fill="#000"/>
<circle cx="303.60" cy="338.40" r="2.15" fill="#000"/>
<circle cx="303.60" cy="349.00" r="2.15" fill="#000"/>
<rect x="275.60" y="264.40" width="38.80" height="88.20" fill="none" stroke="#6a6a6a" stroke-width="0.8"/>
<line x1="273.10" y1="270.60" x2="275.60" y2="270.60" stroke="#6a6a6a" stroke-width="0.7"/>
<text x="271.80" y="273.62" font-size="9.3" fill="#4d4d4d" text-anchor="end">150</text>
<line x1="273.10" y1="292.00" x2="275.60" y2="292.00" stroke="#6a6a6a" stroke-width="0.7"/>
<text x="271.80" y="295.02" font-size="9.3" fill="#4d4d4d" text-anchor="end">120</text>
<line x1="273.10" y1="313.40" x2="275.60" y2="313.40" stroke="#6a6a6a" stroke-width="0.7"/>
<text x="271.80" y="316.42" font-size="9.3" fill="#4d4d4d" text-anchor="end">90</text>
<line x1="273.10" y1="334.40" x2="275.60" y2="334.40" stroke="#6a6a6a" stroke-width="0.7"/>
<text x="271.80" y="337.42" font-size="9.3" fill="#4d4d4d" text-anchor="end">60</text>
<line x1="286.00" y1="352.60" x2="286.00" y2="352.60" stroke="#6a6a6a" stroke-width="0.7"/>
<text x="286.00" y="362.60" font-size="9" fill="#4d4d4d" text-anchor="middle">NW</text>
<text x="303.60" y="362.60" font-size="9" fill="#4d4d4d" text-anchor="middle">W</text>
<text x="371.00" y="257.60" font-size="9" fill="#276419" text-anchor="middle" font-weight="bold">SMC</text>
<line x1="352.60" y1="291.60" x2="372.20" y2="291.60" stroke="#8a8a8a" stroke-width="1.3"/>
<line x1="370.60" y1="336.60" x2="390.20" y2="336.60" stroke="#8a8a8a" stroke-width="1.3"/>
<circle cx="360.60" cy="268.40" r="2.15" fill="#000"/>
<circle cx="364.40" cy="269.00" r="2.15" fill="#000"/>
<circle cx="362.40" cy="275.20" r="2.15" fill="#000"/>
<circle cx="362.40" cy="304.60" r="2.15" fill="#000"/>
<circle cx="362.40" cy="315.80" r="2.15" fill="#000"/>
<circle cx="362.40" cy="349.00" r="2.15" fill="#000"/>
<circle cx="380.60" cy="327.00" r="2.15" fill="#000"/>
<circle cx="380.00" cy="335.40" r="2.15" fill="#000"/>
<circle cx="383.40" cy="334.00" r="2.15" fill="#000"/>
<circle cx="383.40" cy="342.80" r="2.15" fill="#000"/>
<circle cx="380.00" cy="345.20" r="2.15" fill="#000"/>
<rect x="351.60" y="264.40" width="38.80" height="88.20" fill="none" stroke="#6a6a6a" stroke-width="0.8"/>
<line x1="349.10" y1="286.60" x2="351.60" y2="286.60" stroke="#6a6a6a" stroke-width="0.7"/>
<text x="347.80" y="289.62" font-size="9.3" fill="#4d4d4d" text-anchor="end">800</text>
<line x1="349.10" y1="309.60" x2="351.60" y2="309.60" stroke="#6a6a6a" stroke-width="0.7"/>
<text x="347.80" y="312.62" font-size="9.3" fill="#4d4d4d" text-anchor="end">600</text>
<line x1="349.10" y1="332.40" x2="351.60" y2="332.40" stroke="#6a6a6a" stroke-width="0.7"/>
<text x="347.80" y="335.42" font-size="9.3" fill="#4d4d4d" text-anchor="end">400</text>
<line x1="362.40" y1="352.60" x2="362.40" y2="352.60" stroke="#6a6a6a" stroke-width="0.7"/>
<text x="362.40" y="362.60" font-size="9" fill="#4d4d4d" text-anchor="middle">NW</text>
<text x="380.40" y="362.60" font-size="9" fill="#4d4d4d" text-anchor="middle">W</text>
<text x="447.60" y="257.60" font-size="9" fill="#276419" text-anchor="middle" font-weight="bold">CYP</text>
<line x1="428.80" y1="288.40" x2="448.40" y2="288.40" stroke="#8a8a8a" stroke-width="1.3"/>
<line x1="446.20" y1="342.00" x2="465.80" y2="342.00" stroke="#8a8a8a" stroke-width="1.3"/>
<circle cx="438.60" cy="268.40" r="2.15" fill="#000"/>
<circle cx="435.00" cy="286.00" r="2.15" fill="#000"/>
<circle cx="438.60" cy="286.80" r="2.15" fill="#000"/>
<circle cx="442.20" cy="286.80" r="2.15" fill="#000"/>
<circle cx="438.60" cy="318.60" r="2.15" fill="#000"/>
<circle cx="438.60" cy="339.40" r="2.15" fill="#000"/>
<circle cx="452.60" cy="340.40" r="2.15" fill="#000"/>
<circle cx="456.00" cy="340.60" r="2.15" fill="#000"/>
<circle cx="459.60" cy="337.00" r="2.15" fill="#000"/>
<circle cx="459.60" cy="347.00" r="2.15" fill="#000"/>
<circle cx="456.00" cy="349.00" r="2.15" fill="#000"/>
<rect x="428.40" y="264.40" width="38.60" height="88.20" fill="none" stroke="#6a6a6a" stroke-width="0.8"/>
<line x1="425.90" y1="268.60" x2="428.40" y2="268.60" stroke="#6a6a6a" stroke-width="0.7"/>
<text x="424.60" y="271.62" font-size="9.3" fill="#4d4d4d" text-anchor="end">250</text>
<line x1="425.90" y1="289.60" x2="428.40" y2="289.60" stroke="#6a6a6a" stroke-width="0.7"/>
<text x="424.60" y="292.62" font-size="9.3" fill="#4d4d4d" text-anchor="end">200</text>
<line x1="425.90" y1="311.00" x2="428.40" y2="311.00" stroke="#6a6a6a" stroke-width="0.7"/>
<text x="424.60" y="314.02" font-size="9.3" fill="#4d4d4d" text-anchor="end">150</text>
<line x1="425.90" y1="332.40" x2="428.40" y2="332.40" stroke="#6a6a6a" stroke-width="0.7"/>
<text x="424.60" y="335.42" font-size="9.3" fill="#4d4d4d" text-anchor="end">100</text>
<line x1="438.60" y1="352.60" x2="438.60" y2="352.60" stroke="#6a6a6a" stroke-width="0.7"/>
<text x="438.60" y="362.60" font-size="9" fill="#4d4d4d" text-anchor="middle">NW</text>
<text x="456.00" y="362.60" font-size="9" fill="#4d4d4d" text-anchor="middle">W</text>
<text x="524.00" y="257.60" font-size="9" fill="#276419" text-anchor="middle" font-weight="bold">PKS</text>
<line x1="505.20" y1="284.00" x2="524.80" y2="284.00" stroke="#8a8a8a" stroke-width="1.3"/>
<line x1="523.20" y1="337.00" x2="542.80" y2="337.00" stroke="#8a8a8a" stroke-width="1.3"/>
<circle cx="513.60" cy="268.40" r="2.15" fill="#000"/>
<circle cx="517.00" cy="270.60" r="2.15" fill="#000"/>
<circle cx="515.00" cy="277.40" r="2.15" fill="#000"/>
<circle cx="514.40" cy="288.00" r="2.15" fill="#000"/>
<circle cx="518.00" cy="288.00" r="2.15" fill="#000"/>
<circle cx="515.00" cy="349.00" r="2.15" fill="#000"/>
<circle cx="532.60" cy="321.60" r="2.15" fill="#000"/>
<circle cx="534.00" cy="333.00" r="2.15" fill="#000"/>
<circle cx="530.60" cy="335.60" r="2.15" fill="#000"/>
<circle cx="533.00" cy="341.60" r="2.15" fill="#000"/>
<circle cx="536.60" cy="340.60" r="2.15" fill="#000"/>
<rect x="504.40" y="264.40" width="39.00" height="88.20" fill="none" stroke="#6a6a6a" stroke-width="0.8"/>
<line x1="501.90" y1="285.60" x2="504.40" y2="285.60" stroke="#6a6a6a" stroke-width="0.7"/>
<text x="500.60" y="288.62" font-size="9.3" fill="#4d4d4d" text-anchor="end">300</text>
<line x1="501.90" y1="313.00" x2="504.40" y2="313.00" stroke="#6a6a6a" stroke-width="0.7"/>
<text x="500.60" y="316.02" font-size="9.3" fill="#4d4d4d" text-anchor="end">200</text>
<line x1="501.90" y1="340.00" x2="504.40" y2="340.00" stroke="#6a6a6a" stroke-width="0.7"/>
<text x="500.60" y="343.02" font-size="9.3" fill="#4d4d4d" text-anchor="end">100</text>
<line x1="515.00" y1="352.60" x2="515.00" y2="352.60" stroke="#6a6a6a" stroke-width="0.7"/>
<text x="515.00" y="362.60" font-size="9" fill="#4d4d4d" text-anchor="middle">NW</text>
<text x="533.00" y="362.60" font-size="9" fill="#4d4d4d" text-anchor="middle">W</text>
<text x="215.80" y="380.00" font-size="9" fill="#8e0152" text-anchor="middle" font-weight="bold">PL</text>
<line x1="196.20" y1="473.40" x2="215.80" y2="473.40" stroke="#8a8a8a" stroke-width="1.3"/>
<line x1="216.20" y1="457.00" x2="235.80" y2="457.00" stroke="#8a8a8a" stroke-width="1.3"/>
<circle cx="206.00" cy="471.80" r="2.15" fill="#000"/>
<circle cx="226.00" cy="391.00" r="2.15" fill="#000"/>
<circle cx="226.00" cy="423.40" r="2.15" fill="#000"/>
<circle cx="230.00" cy="423.40" r="2.15" fill="#000"/>
<circle cx="221.60" cy="456.00" r="2.15" fill="#000"/>
<circle cx="225.60" cy="456.00" r="2.15" fill="#000"/>
<circle cx="229.60" cy="456.00" r="2.15" fill="#000"/>
<circle cx="226.00" cy="471.80" r="2.15" fill="#000"/>
<rect x="194.40" y="387.40" width="43.00" height="88.00" fill="none" stroke="#6a6a6a" stroke-width="0.8"/>
<line x1="191.90" y1="391.00" x2="194.40" y2="391.00" stroke="#6a6a6a" stroke-width="0.7"/>
<text x="190.60" y="394.02" font-size="9.3" fill="#4d4d4d" text-anchor="end">8</text>
<line x1="191.90" y1="423.40" x2="194.40" y2="423.40" stroke="#6a6a6a" stroke-width="0.7"/>
<text x="190.60" y="426.42" font-size="9.3" fill="#4d4d4d" text-anchor="end">6</text>
<line x1="191.90" y1="456.00" x2="194.40" y2="456.00" stroke="#6a6a6a" stroke-width="0.7"/>
<text x="190.60" y="459.02" font-size="9.3" fill="#4d4d4d" text-anchor="end">4</text>
<line x1="191.90" y1="471.80" x2="194.40" y2="471.80" stroke="#6a6a6a" stroke-width="0.7"/>
<text x="190.60" y="474.82" font-size="9.3" fill="#4d4d4d" text-anchor="end">3</text>
<line x1="206.00" y1="475.40" x2="206.00" y2="475.40" stroke="#6a6a6a" stroke-width="0.7"/>
<text x="206.00" y="485.60" font-size="9" fill="#4d4d4d" text-anchor="middle">NW</text>
<text x="226.00" y="485.60" font-size="9" fill="#4d4d4d" text-anchor="middle">W</text>
<text x="175.80" y="431.60" font-size="8.3" fill="#000" text-anchor="middle" transform="rotate(-90 175.80 431.60)">count</text>
<text x="295.00" y="380.00" font-size="9" fill="#8e0152" text-anchor="middle" font-weight="bold">PKS</text>
<line x1="276.20" y1="459.40" x2="295.80" y2="459.40" stroke="#8a8a8a" stroke-width="1.3"/>
<line x1="293.80" y1="444.40" x2="313.40" y2="444.40" stroke="#8a8a8a" stroke-width="1.3"/>
<circle cx="286.00" cy="457.60" r="2.15" fill="#000"/>
<circle cx="303.80" cy="391.00" r="2.15" fill="#000"/>
<circle cx="303.60" cy="399.20" r="2.15" fill="#000"/>
<circle cx="303.60" cy="416.40" r="2.15" fill="#000"/>
<circle cx="300.20" cy="443.00" r="2.15" fill="#000"/>
<circle cx="303.60" cy="445.60" r="2.15" fill="#000"/>
<circle cx="306.80" cy="444.60" r="2.15" fill="#000"/>
<circle cx="303.60" cy="472.00" r="2.15" fill="#000"/>
<rect x="275.60" y="387.40" width="38.80" height="88.00" fill="none" stroke="#6a6a6a" stroke-width="0.8"/>
<line x1="273.10" y1="416.00" x2="275.60" y2="416.00" stroke="#6a6a6a" stroke-width="0.7"/>
<text x="271.80" y="419.02" font-size="9.3" fill="#4d4d4d" text-anchor="end">150</text>
<line x1="273.10" y1="446.40" x2="275.60" y2="446.40" stroke="#6a6a6a" stroke-width="0.7"/>
<text x="271.80" y="449.42" font-size="9.3" fill="#4d4d4d" text-anchor="end">100</text>
<line x1="286.00" y1="475.40" x2="286.00" y2="475.40" stroke="#6a6a6a" stroke-width="0.7"/>
<text x="286.00" y="485.60" font-size="9" fill="#4d4d4d" text-anchor="middle">NW</text>
<text x="303.60" y="485.60" font-size="9" fill="#4d4d4d" text-anchor="middle">W</text>
<text x="369.60" y="380.00" font-size="9" fill="#276419" text-anchor="middle" font-weight="bold">other</text>
<line x1="350.60" y1="392.60" x2="370.20" y2="392.60" stroke="#8a8a8a" stroke-width="1.3"/>
<line x1="369.40" y1="456.60" x2="389.00" y2="456.60" stroke="#8a8a8a" stroke-width="1.3"/>
<circle cx="360.40" cy="391.00" r="2.15" fill="#000"/>
<circle cx="379.20" cy="395.00" r="2.15" fill="#000"/>
<circle cx="379.20" cy="420.60" r="2.15" fill="#000"/>
<circle cx="379.20" cy="446.20" r="2.15" fill="#000"/>
<circle cx="379.20" cy="455.40" r="2.15" fill="#000"/>
<circle cx="377.00" cy="465.60" r="2.15" fill="#000"/>
<circle cx="382.00" cy="467.00" r="2.15" fill="#000"/>
<circle cx="379.20" cy="472.00" r="2.15" fill="#000"/>
<rect x="349.40" y="387.40" width="41.00" height="88.00" fill="none" stroke="#6a6a6a" stroke-width="0.8"/>
<line x1="346.90" y1="409.40" x2="349.40" y2="409.40" stroke="#6a6a6a" stroke-width="0.7"/>
<text x="345.60" y="412.42" font-size="9.3" fill="#4d4d4d" text-anchor="end">80</text>
<line x1="346.90" y1="434.60" x2="349.40" y2="434.60" stroke="#6a6a6a" stroke-width="0.7"/>
<text x="345.60" y="437.62" font-size="9.3" fill="#4d4d4d" text-anchor="end">60</text>
<line x1="346.90" y1="460.00" x2="349.40" y2="460.00" stroke="#6a6a6a" stroke-width="0.7"/>
<text x="345.60" y="463.02" font-size="9.3" fill="#4d4d4d" text-anchor="end">40</text>
<line x1="360.40" y1="475.40" x2="360.40" y2="475.40" stroke="#6a6a6a" stroke-width="0.7"/>
<text x="360.40" y="485.60" font-size="9" fill="#4d4d4d" text-anchor="middle">NW</text>
<text x="379.20" y="485.60" font-size="9" fill="#4d4d4d" text-anchor="middle">W</text>
<text x="446.40" y="380.00" font-size="9" fill="#276419" text-anchor="middle" font-weight="bold">NRPS</text>
<line x1="427.20" y1="440.20" x2="446.80" y2="440.20" stroke="#8a8a8a" stroke-width="1.3"/>
<line x1="445.80" y1="465.40" x2="465.40" y2="465.40" stroke="#8a8a8a" stroke-width="1.3"/>
<circle cx="437.00" cy="438.80" r="2.15" fill="#000"/>
<circle cx="455.60" cy="391.00" r="2.15" fill="#000"/>
<circle cx="455.60" cy="421.60" r="2.15" fill="#000"/>
<circle cx="450.00" cy="463.80" r="2.15" fill="#000"/>
<circle cx="453.40" cy="465.20" r="2.15" fill="#000"/>
<circle cx="458.40" cy="466.60" r="2.15" fill="#000"/>
<circle cx="461.80" cy="462.60" r="2.15" fill="#000"/>
<circle cx="455.60" cy="472.00" r="2.15" fill="#000"/>
<rect x="425.40" y="387.40" width="41.60" height="88.00" fill="none" stroke="#6a6a6a" stroke-width="0.8"/>
<line x1="422.90" y1="399.00" x2="425.40" y2="399.00" stroke="#6a6a6a" stroke-width="0.7"/>
<text x="421.60" y="402.02" font-size="9.3" fill="#4d4d4d" text-anchor="end">60</text>
<line x1="422.90" y1="425.40" x2="425.40" y2="425.40" stroke="#6a6a6a" stroke-width="0.7"/>
<text x="421.60" y="428.42" font-size="9.3" fill="#4d4d4d" text-anchor="end">40</text>
<line x1="422.90" y1="452.00" x2="425.40" y2="452.00" stroke="#6a6a6a" stroke-width="0.7"/>
<text x="421.60" y="455.02" font-size="9.3" fill="#4d4d4d" text-anchor="end">20</text>
<line x1="437.00" y1="475.40" x2="437.00" y2="475.40" stroke="#6a6a6a" stroke-width="0.7"/>
<text x="437.00" y="485.60" font-size="9" fill="#4d4d4d" text-anchor="middle">NW</text>
<text x="455.60" y="485.60" font-size="9" fill="#4d4d4d" text-anchor="middle">W</text>
</svg>
</body></html>
